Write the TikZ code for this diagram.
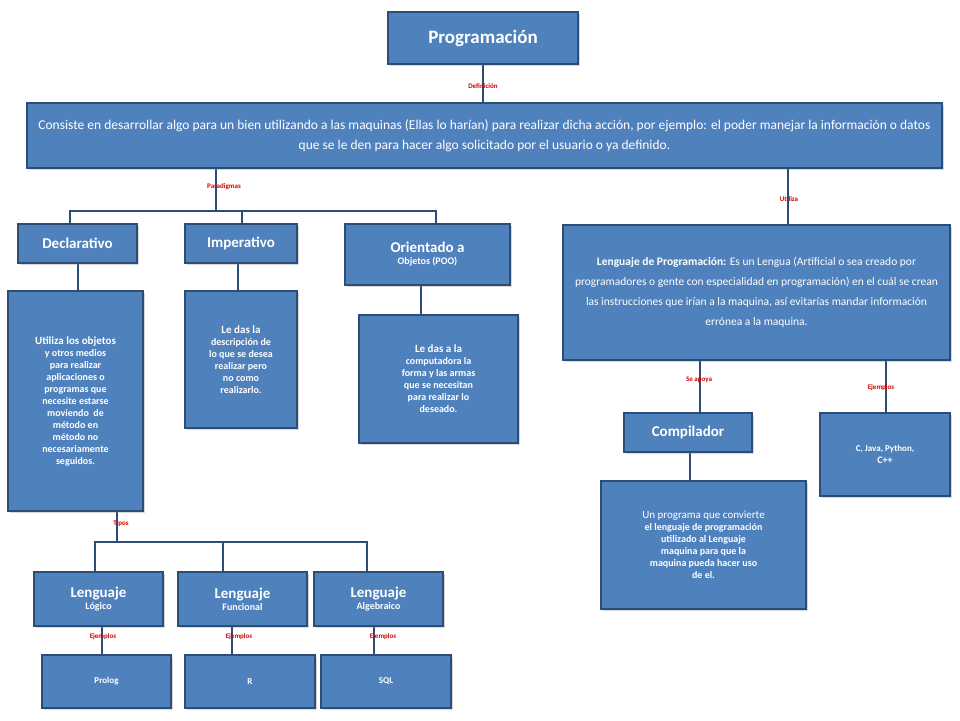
\documentclass[tikz,border=0pt]{standalone}
\usepackage{fontspec}
\setmainfont{Carlito}
\usetikzlibrary{shadows}
\definecolor{bfill}{HTML}{4F81BD}
\definecolor{bline}{HTML}{2C4D75}
\definecolor{lred}{HTML}{D00000}
\begin{document}
\begin{tikzpicture}[x=1pt,y=-1pt,
  box/.style={draw=bline,line width=1.2pt,fill=bfill,text=white,font=\bfseries,drop shadow={opacity=0.3,shadow xshift=1.5pt,shadow yshift=-1.5pt}},
  lab/.style={text=lred,font=\bfseries\scriptsize},
  con/.style={draw=bline,line width=2pt}]
\useasboundingbox[fill=white] (0,0) rectangle (960,720);
\newcommand{\bx}[6]{\node[box,minimum width=#4-#2,minimum height=#5-#3,inner sep=0pt,align=center] (#1) at ({(#2+#4)/2},{(#3+#5)/2}) {#6};}
% connectors first
\coordinate (pb) at (216,211);
\coordinate (tb) at (117,542);
\draw[con] (483,64) -- (483,103);
\draw[con] (216,168) -- (pb);
\draw[con] (70,224) -- (70,211) -- (436,211) -- (436,224);
\draw[con] (242,211) -- (242,224);
\draw[con] (78,263) -- (78,291);
\draw[con] (238,263) -- (238,291);
\draw[con] (421,285) -- (421,315);
\draw[con] (117,511) -- (tb);
\draw[con] (95,572) -- (95,542) -- (367,542) -- (367,572);
\draw[con] (223,542) -- (223,572);
\draw[con] (102,626) -- (102,655);
\draw[con] (232,626) -- (232,655);
\draw[con] (374,626) -- (374,655);
\draw[con] (788,168) -- (788,225);
\draw[con] (700,360) -- (700,413);
\draw[con] (886,360) -- (886,413);
\draw[con] (690,452) -- (690,481);
% boxes
\bx{prog}{388}{12}{578}{64}{\fontsize{19}{22}\selectfont Programación}
\bx{def}{27}{103}{942}{168}{\parbox{900pt}{\centering\fontsize{13.5}{20}\mdseries Consiste en desarrollar algo para un bien utilizando a las maquinas (Ellas lo harían) para realizar dicha acción, por ejemplo: el poder manejar la información o datos que se le den para hacer algo solicitado por el usuario o ya definido.}}
\bx{decl}{18}{224}{137}{263}{\fontsize{15}{18}\selectfont Declarativo}
\bx{imp}{185}{224}{297}{263}{\fontsize{15}{18}\selectfont Imperativo}
\bx{poo}{345}{224}{510}{285}{\fontsize{15}{18}\selectfont Orientado a\\Objetos (POO)}
\bx{declt}{8}{291}{143}{511}{\fontsize{11}{19}\selectfont Utiliza los objetos\\y otros medios\\para realizar\\aplicaciones o\\programas que\\necesite estarse\\moviendo\ \ de\\método en\\método no\\necesariamente\\seguidos.}
\bx{impt}{185}{291}{297}{428}{\fontsize{11}{19}\selectfont Le das la\\descripción de\\lo que se desea\\realizar pero\\no como\\realizarlo.}
\bx{poot}{359}{315}{518}{443}{\fontsize{11}{19}\selectfont Le das a la\\computadora la\\forma y las armas\\que se necesitan\\para realizar lo\\deseado.}
\bx{ll}{34}{572}{163}{626}{\fontsize{15}{20}\selectfont Lenguaje\\Lógico}
\bx{lf}{178}{572}{307}{626}{\fontsize{15}{20}\selectfont Lenguaje\\Funcional}
\bx{la}{314}{572}{443}{626}{\fontsize{15}{20}\selectfont Lenguaje\\Algebraico}
\bx{e1}{42}{655}{171}{708}{\small Prolog}
\bx{e2}{185}{655}{315}{708}{\small R}
\bx{e3}{321}{655}{451}{708}{\small SQL}
\bx{lp}{563}{225}{950}{360}{\parbox{370pt}{\centering\fontsize{11.5}{20}\selectfont Lenguaje de Programación: \mdseries Es un Lengua (Artificial o sea creado por programadores o gente con especialidad en programación) en el cuál se crean las instrucciones que irían a la maquina, así evitarías mandar información errónea a la maquina.}}
\bx{comp}{624}{413}{752}{452}{\fontsize{15}{18}\selectfont Compilador}
\bx{compt}{601}{481}{806}{609}{\fontsize{11}{19}\selectfont\mdseries Un programa que convierte\\el lenguaje de programación\\utilizado al Lenguaje\\maquina para que la\\maquina pueda hacer uso\\de el.}
\bx{ej}{820}{413}{950}{496}{\small C, Java, Python,\\C++}
% labels
\node[lab] (l1) at (483,86) {Definición};
\node[lab] (l2) at (224,187) {Paradigmas};
\node[lab] (l3) at (789,199) {Utiliza};
\node[lab] (l4) at (699,380) {Se apoya};
\node[lab] (l5) at (881,388) {Ejemplos};
\node[lab] (l6) at (121,524) {Tipos};
\node[lab] (l7) at (103,637) {Ejemplos};
\node[lab] (l8) at (239,637) {Ejemplos};
\node[lab] (l9) at (383,637) {Ejemplos};
\end{tikzpicture}
\end{document}
